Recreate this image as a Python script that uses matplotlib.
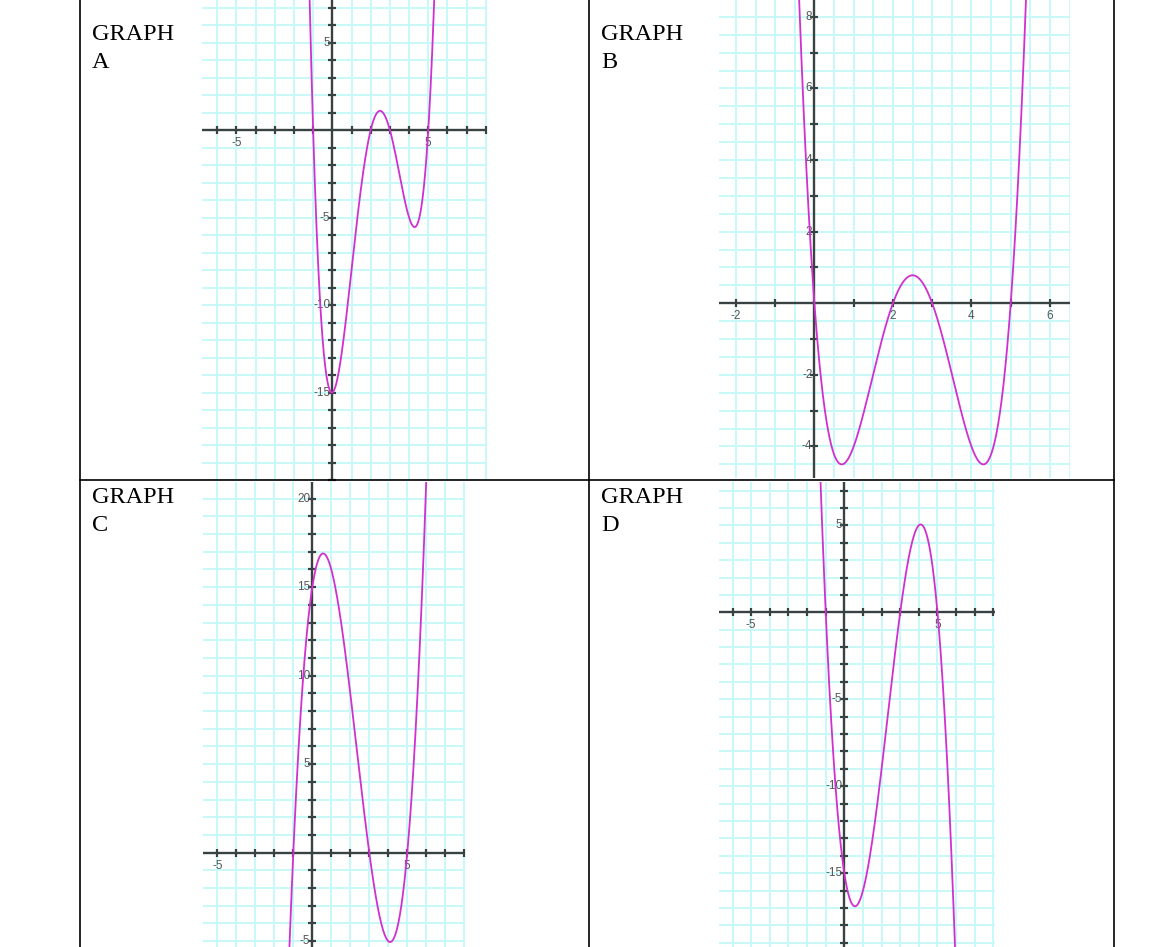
import numpy as np
import matplotlib
matplotlib.use("Agg")
import matplotlib.pyplot as plt
from matplotlib.lines import Line2D

W, H = 1153, 947

# ---- data (roots and leading coefficient of each plotted polynomial)
graph_names = ["A", "B", "C", "D"]
roots_A = [-1, 2, 3, 5]
lead_A = 0.5
roots_B = [0, 2, 3, 5]
lead_B = 0.5
roots_C = [-1, 3, 5]
lead_C = 1.0
roots_D = [-1, 3, 5]
lead_D = -1.0

# axis ranges
xlim_A, ylim_A = (-6.79, 8.06), (-20.0, 7.43)
xlim_B, ylim_B = (-2.43, 6.51), (-4.88, 8.47)
xlim_C, ylim_C = (-5.77, 8.04), (-5.33, 20.94)
xlim_D, ylim_D = (-6.73, 8.09), (-19.24, 7.49)

# tick labels
xlabels_A, ylabels_A = [-5, 5], [5, -5, -10, -15]
xlabels_B, ylabels_B = [-2, 2, 4, 6], [8, 6, 4, 2, -2, -4]
xlabels_C, ylabels_C = [-5, 5], [20, 15, 10, 5, -5]
xlabels_D, ylabels_D = [-5, 5], [5, -5, -10, -15]

grid_step = {"A": 1.0, "B": 0.5, "C": 1.0, "D": 1.0}

# pixel boxes (left, top, right, bottom)
boxes = {"A": (202, 0, 487, 480), "B": (719, 0, 1070, 478),
         "C": (202.7, 482, 465, 947), "D": (719, 482, 995, 947)}

specs = {
    "A": (roots_A, lead_A, xlim_A, ylim_A, xlabels_A, ylabels_A),
    "B": (roots_B, lead_B, xlim_B, ylim_B, xlabels_B, ylabels_B),
    "C": (roots_C, lead_C, xlim_C, ylim_C, xlabels_C, ylabels_C),
    "D": (roots_D, lead_D, xlim_D, ylim_D, xlabels_D, ylabels_D),
}

fig = plt.figure(figsize=(W / 100, H / 100), dpi=100)
fig.patch.set_facecolor("white")

GRID = "#c8f8f8"
AXC = "#384242"
CURVE = "#d030d0"
LBL = "#555555"

for name in graph_names:
    roots, lead, xl, yl, xlab, ylab = specs[name]
    l, t, r, b = boxes[name]
    ax = fig.add_axes([l / W, 1 - b / H, (r - l) / W, (b - t) / H])
    ax.set_xlim(*xl)
    ax.set_ylim(*yl)
    ax.set_axis_off()
    st = grid_step[name]
    for gx in np.arange(np.ceil(xl[0] / st) * st, xl[1] + 1e-9, st):
        ax.axvline(gx, color=GRID, lw=1.4, zorder=1)
    for gy in np.arange(np.ceil(yl[0] / st) * st, yl[1] + 1e-9, st):
        ax.axhline(gy, color=GRID, lw=1.4, zorder=1)
    ax.axhline(0, color=AXC, lw=1.7, zorder=2)
    ax.axvline(0, color=AXC, lw=1.7, zorder=2)
    xt = [v for v in range(int(np.ceil(xl[0])), int(np.floor(xl[1])) + 1) if v != 0]
    yt = [v for v in range(int(np.ceil(yl[0])), int(np.floor(yl[1])) + 1) if v != 0]
    ax.plot(xt, [0] * len(xt), ls="none", marker="|", ms=5.4, mew=1.6,
            color=AXC, zorder=2, clip_on=False)
    ax.plot([0] * len(yt), yt, ls="none", marker="_", ms=5.4, mew=1.6,
            color=AXC, zorder=2, clip_on=False)
    for v in xlab:
        ax.annotate(str(v), (v, 0), xytext=(0, -7), textcoords="offset pixels",
                    ha="center", va="top", fontsize=8.5, color=LBL,
                    family="Liberation Sans", zorder=3)
    for v in ylab:
        ax.annotate(str(v), (0, v), xytext=(-2, 0), textcoords="offset pixels",
                    ha="right", va="center", fontsize=8.5, color=LBL,
                    family="Liberation Sans", zorder=3)
    xs = np.linspace(xl[0], xl[1], 2000)
    coeffs = lead * np.poly(roots)
    ax.plot(xs, np.polyval(coeffs, xs), color=CURVE, lw=1.3, zorder=4)

# table lines
def fline(x0, y0, x1, y1):
    fig.add_artist(Line2D([x0 / W, x1 / W], [1 - y0 / H, 1 - y1 / H],
                          color="black", lw=1.2, transform=fig.transFigure))

fline(79.5, 0, 79.5, H)
fline(588.5, 0, 588.5, H)
fline(1113.5, 0, 1113.5, H)
fline(79.5, 480.3, 1113.5, 480.3)

# cell titles
titles = {"A": (92, 40), "B": (601, 40), "C": (92, 503), "D": (601, 503)}
for name in graph_names:
    x, y = titles[name]
    fig.text(x / W, 1 - y / H, "GRAPH", family="Liberation Serif", fontsize=17.5,
             va="baseline", ha="left", color="black")
    fig.text(x / W, 1 - (y + 28) / H, name, family="Liberation Serif", fontsize=17.5,
             va="baseline", ha="left", color="black")

fig.savefig("out.png", dpi=100)
